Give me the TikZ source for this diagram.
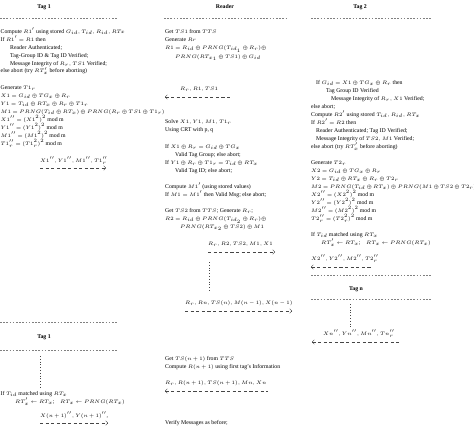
\documentclass[tikz,border=0pt]{standalone}
\usepackage{fontspec}
\setmainfont{Liberation Serif}
\DeclareMathSizes{5.8}{5}{3.7}{3}
\usetikzlibrary{arrows.meta}
\begin{document}
\begin{tikzpicture}[x=1pt,y=-1pt,
  t/.style={font={\fontsize{5.8}{7}\selectfont\medmuskip=3mu\thickmuskip=4mu}, inner sep=0pt, anchor=base west, text height=4.2pt, text depth=1.2pt},
  hd/.style={font=\fontsize{5.8}{7}\selectfont\bfseries, inner sep=0pt, anchor=base},
  sep/.style={gray, line width=0.35pt, dash pattern=on 1.6pt off 1.6pt},
  msg/.style={gray!55!black, line width=0.4pt, dash pattern=on 3.2pt off 2.4pt},
  fw/.style={msg, -{Straight Barb[length=2pt,width=4.5pt]}},
  bw/.style={msg, {Straight Barb[length=2pt,width=4.5pt]}-},
  vd/.style={gray!55!black, line width=0.6pt, dash pattern=on 0.6pt off 2.2pt},
]
\useasboundingbox (0,0) rectangle (474,431);
\clip (0,0) rectangle (474,431);

% ---------- headers ----------
\node[hd] (h1) at (44,9) {Tag 1};
\node[hd] (h2) at (225,9) {Reader};
\node[hd] (h3) at (360,9) {Tag 2};
\coordinate (s1a) at (0,18);   \coordinate (s1b) at (118,18);
\coordinate (s2a) at (164,18); \coordinate (s2b) at (288,18);
\coordinate (s3a) at (311,18); \coordinate (s3b) at (431,18);
\draw[sep] (s1a) -- (s1b);
\draw[sep] (s2a) -- (s2b);
\draw[sep] (s3a) -- (s3b);

% ---------- Tag 1 (top) ----------
\node[t] (a1) at (0.5,33) {Compute $R1'$ using stored $G_{id},T_{id},R_{id},RT_x$};
\node[t] (a2) at (0.5,41) {If $R1'=R1$ then};
\node[t] (a3) at (10,49) {Reader Authenticated;};
\node[t] (a4) at (10,57) {Tag-Group ID \& Tag ID Verified;};
\node[t] (a5) at (10,65) {Message Integrity of $R_r,TS1$ Verified;};
\node[t] (a6) at (0.5,72.5) {else abort (try $RT_x'$ before aborting)};
\node[t] (a7) at (0.5,89) {Generate $T1_r$};
\node[t] (a8) at (0.5,97) {$X1=G_{id}\oplus TG_x\oplus R_r$};
\node[t] (a9) at (0.5,105) {$Y1=T_{id}\oplus RT_x\oplus R_r\oplus T1_r$};
\node[t] (a10) at (0.5,113) {$M1=PRNG(T_{id}\oplus RT_x)\oplus PRNG(R_r\oplus TS1\oplus T1_r)$};
\node[t] (a11) at (0.5,121) {$X1''=(X1^2)^2$ mod m};
\node[t] (a12) at (0.5,129) {$Y1''=(Y1^2)^2$ mod m};
\node[t] (a13) at (0.5,137) {$M1''=(M1^2)^2$ mod m};
\node[t] (a14) at (0.5,145) {$T1_r''=(T1_r^2)^2$ mod m};
\node[t] (a15) at (40,162) {$X1'',Y1'',M1'',T1_r''$};
\coordinate (m1a) at (40,168); \coordinate (m1b) at (106,168);
\draw[fw] (m1a) -- (m1b);

% ---------- Reader ----------
\node[t] (r1) at (165,33) {Get $TS1$ from $TTS$};
\node[t] (r2) at (165,41) {Generate $R_r$};
\node[t] (r3) at (165,49) {$R1=R_{id}\oplus PRNG(T_{id_1}\oplus R_r)\oplus$};
\node[t] (r4) at (175,58) {$PRNG(RT_{x_1}\oplus TS1)\oplus G_{id}$};
\node[t] (r5) at (180,90) {$R_r,R1,TS1$};
\coordinate (m2a) at (165,97); \coordinate (m2b) at (232,97);
\draw[bw] (m2a) -- (m2b);
\node[t] (r6) at (165,123) {Solve $X1,Y1,M1,T1_r$};
\node[t] (r7) at (165,131) {Using CRT with p, q};
\node[t] (r8) at (165,148) {If $X1\oplus R_r=G_{id}\oplus TG_x$};
\node[t] (r9) at (175,156) {Valid Tag Group; else abort;};
\node[t] (r10) at (165,164) {If $Y1\oplus R_r\oplus T1_r=T_{id}\oplus RT_x$};
\node[t] (r11) at (175,172) {Valid Tag ID; else abort;};
\node[t] (r12) at (165,188) {Compute $M1'$ (using stored values)};
\node[t] (r13) at (165,196) {If $M1=M1'$ then Valid Msg; else abort;};
\node[t] (r14) at (165,212) {Get $TS2$ from $TTS$; Generate $R_r$;};
\node[t] (r15) at (165,220) {$R2=R_{id}\oplus PRNG(T_{id_2}\oplus R_r)\oplus$};
\node[t] (r16) at (180,228) {$PRNG(RT_{x_2}\oplus TS2)\oplus M1$};
\node[t] (r17) at (208,245) {$R_r,R2,TS2,M1,X1$};
\coordinate (m3a) at (208,252); \coordinate (m3b) at (275,252);
\draw[fw] (m3a) -- (m3b);
\coordinate (d1a) at (209,262); \coordinate (d1b) at (209,292);
\draw[vd] (d1a) -- (d1b);
\node[t] (r18) at (185,304) {$R_r,Rn,TS(n),M(n-1),X(n-1)$};
\coordinate (m4a) at (185,311); \coordinate (m4b) at (292,311);
\draw[fw] (m4a) -- (m4b);
\node[t] (r19) at (165,360) {Get $TS(n+1)$ from $TTS$};
\node[t] (r20) at (165,368) {Compute $R(n+1)$ using first tag's Information};
\node[t] (r21) at (165,384) {$R_r,R(n+1),TS(n+1),Mn,Xn$};
\coordinate (m5a) at (165,391); \coordinate (m5b) at (268,391);
\draw[bw] (m5a) -- (m5b);
\node[t] (r22) at (165,424) {Verify Messages as before;};

% ---------- Tag 2 ----------
\node[t] (b1) at (316,84) {If $G_{id}=X1\oplus TG_x\oplus R_r$ then};
\node[t] (b2) at (326,92) {Tag Group ID Verified};
\node[t] (b3) at (331,100) {Message Integrity of $R_r,X1$ Verified;};
\node[t] (b4) at (311,108) {else abort;};
\node[t] (b5) at (311,116) {Compute $R2'$ using stored $T_{id},R_{id},RT_x$};
\node[t] (b6) at (311,124) {If $R2'=R2$ then};
\node[t] (b7) at (316,132) {Reader Authenticated; Tag ID Verified;};
\node[t] (b8) at (316,140) {Message Integrity of $TS2,M1$ Verified;};
\node[t] (b9) at (311,148) {else abort (try $RT_x'$ before aborting)};
\node[t] (b10) at (311,164) {Generate $T2_r$};
\node[t] (b11) at (311,172) {$X2=G_{id}\oplus TG_x\oplus R_r$};
\node[t] (b12) at (311,180) {$Y2=T_{id}\oplus RT_x\oplus R_r\oplus T2_r$};
\node[t] (b13) at (311,188) {$M2=PRNG(T_{id}\oplus RT_x)\oplus PRNG(M1\oplus TS2\oplus T2_r)$};
\node[t] (b14) at (311,196) {$X2''=(X2^2)^2$ mod m};
\node[t] (b15) at (311,204) {$Y2''=(Y2^2)^2$ mod m};
\node[t] (b16) at (311,212) {$M2''=(M2^2)^2$ mod m};
\node[t] (b17) at (311,220) {$T2_r''=(T2_r^2)^2$ mod m};
\node[t] (b18) at (311,236) {If $T_{id}$ matched using $RT_x$};
\node[t] (b19) at (321,244) {$RT_x'\leftarrow RT_x$;\quad $RT_x\leftarrow PRNG(RT_x)$};
\node[t] (b20) at (311,260) {$X2'',Y2'',M2'',T2_r''$};
\coordinate (m6a) at (311,267); \coordinate (m6b) at (372,267);
\draw[bw] (m6a) -- (m6b);

% ---------- Tag n ----------
\coordinate (s4a) at (311,275); \coordinate (s4b) at (431,275);
\draw[sep] (s4a) -- (s4b);
\node[hd] (h4) at (356,290) {Tag n};
\coordinate (s5a) at (311,299); \coordinate (s5b) at (431,299);
\draw[sep] (s5a) -- (s5b);
\coordinate (d2a) at (350,304); \coordinate (d2b) at (350,327);
\draw[vd] (d2a) -- (d2b);
\node[t] (c1) at (323,335) {$Xn'',Yn'',Mn'',Tn_r''$};
\coordinate (m7a) at (312,342); \coordinate (m7b) at (399,342);
\draw[bw] (m7a) -- (m7b);

% ---------- Tag 1 (bottom) ----------
\coordinate (s6a) at (0,322); \coordinate (s6b) at (118,322);
\draw[sep] (s6a) -- (s6b);
\node[hd] (h5) at (44,338) {Tag 1};
\coordinate (s7a) at (0,350); \coordinate (s7b) at (118,350);
\draw[sep] (s7a) -- (s7b);
\coordinate (d3a) at (40,356); \coordinate (d3b) at (40,388);
\draw[vd] (d3a) -- (d3b);
\node[t] (e1) at (0.5,395) {If $T_{id}$ matched using $RT_x$};
\node[t] (e2) at (15,403) {$RT_x'\leftarrow RT_x$;\quad $RT_x\leftarrow PRNG(RT_x)$};
\node[t] (e3) at (40,417) {$X(n+1)'',Y(n+1)''$,};
\coordinate (m8a) at (40,423); \coordinate (m8b) at (108,423);
\draw[fw] (m8a) -- (m8b);
\end{tikzpicture}
\end{document}
